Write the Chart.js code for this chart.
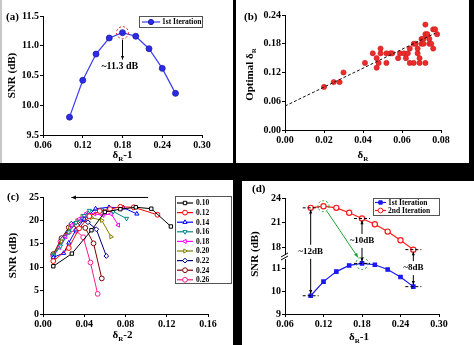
<!DOCTYPE html>
<html>
<head>
<meta charset="utf-8">
<script src="https://cdn.jsdelivr.net/npm/chart.js@4.4.0/dist/chart.umd.min.js"></script>
<style>
html, body { margin: 0; padding: 0; background: #000; }
#fig { position: relative; width: 474px; height: 345px; background: #000; overflow: hidden; }
.panel { position: absolute; background: #fff; }
</style>
</head>
<body>
<div id="fig">
    <div class="panel" style="left:0;top:0;width:233px;height:163px;"><canvas id="chartA"></canvas></div>
    <div class="panel" style="left:236px;top:0;width:233px;height:163px;"><canvas id="chartB"></canvas></div>
    <div class="panel" style="left:0;top:180px;width:233px;height:165px;"><canvas id="chartC"></canvas></div>
    <div class="panel" style="left:242px;top:181px;width:232px;height:164px;"><canvas id="chartD"></canvas></div>
</div>
<script>
// === DATA ===
// (a) / (d): SNR vs deltaR-1
const iterX = [0.10, 0.12, 0.14, 0.16, 0.18, 0.20, 0.22, 0.24, 0.26];
const iter1SNR = [9.8, 10.42, 10.86, 11.13, 11.22, 11.16, 10.95, 10.62, 10.2];
const iter2SNR = [22.8, 23.0, 22.8, 22.2, 21.5, 20.8, 19.9, 18.85, 17.7];

// (b): optimal deltaR vs deltaR
const bX = [0.020, 0.025, 0.028, 0.030, 0.047,
    0.041, 0.048, 0.052, 0.064, 0.066, 0.069, 0.072,
    0.047, 0.058, 0.062, 0.069,
    0.045, 0.049, 0.052, 0.054, 0.055, 0.059, 0.061, 0.063, 0.068,
    0.049, 0.064, 0.068, 0.076,
    0.066, 0.067, 0.070, 0.071, 0.074, 0.075,
    0.070, 0.071, 0.074,
    0.072, 0.073, 0.078,
    0.076, 0.077,
    0.072];
const bY = [0.09, 0.10, 0.10, 0.12, 0.13,
    0.14, 0.14, 0.14, 0.14, 0.14, 0.14, 0.14,
    0.15, 0.15, 0.15, 0.15,
    0.16, 0.16, 0.16, 0.16, 0.16, 0.16, 0.16, 0.16, 0.16,
    0.17, 0.17, 0.17, 0.17,
    0.18, 0.18, 0.18, 0.18, 0.18, 0.18,
    0.19, 0.19, 0.19,
    0.20, 0.20, 0.20,
    0.21, 0.21,
    0.22];
const fitX = [0.0, 0.077];
const fitY = [0.05, 0.202];

// (c): SNR vs deltaR-2 for each deltaR-1
const cLabels = ['0.10', '0.12', '0.14', '0.16', '0.18', '0.20', '0.22', '0.24', '0.26'];
const c010x = [0.010, 0.028, 0.047, 0.060, 0.075, 0.090, 0.105, 0.124];
const c010y = [10.2, 12.9, 17.9, 21.8, 22.4, 22.8, 22.5, 18.7];
const c012x = [0.010, 0.025, 0.035, 0.045, 0.055, 0.065, 0.075, 0.088, 0.111];
const c012y = [11.3, 14.1, 18.3, 20.9, 22.0, 22.4, 22.9, 22.8, 21.2];
const c014x = [0.010, 0.020, 0.025, 0.032, 0.040, 0.051, 0.064, 0.078, 0.091];
const c014y = [12.1, 13.0, 15.2, 18.0, 20.3, 22.5, 22.8, 22.7, 21.4];
const c016x = [0.010, 0.017, 0.025, 0.032, 0.040, 0.045, 0.057, 0.068, 0.081];
const c016y = [12.5, 14.5, 17.5, 19.5, 21.0, 22.1, 22.2, 21.9, 20.4];
const c018x = [0.010, 0.016, 0.022, 0.028, 0.035, 0.042, 0.050, 0.058, 0.066, 0.073];
const c018y = [12.3, 14.2, 16.5, 19.0, 20.3, 21.5, 21.4, 21.1, 21.4, 19.0];
const c020x = [0.010, 0.018, 0.026, 0.033, 0.038, 0.047, 0.057, 0.066];
const c020y = [12.6, 15.5, 18.3, 19.9, 20.9, 20.6, 20.0, 16.5];
const c022x = [0.010, 0.019, 0.0275, 0.0356, 0.0436, 0.0517, 0.0614];
const c022y = [12.6, 16.0, 19.3, 20.0, 19.6, 18.1, 12.4];
const c024x = [0.010, 0.018, 0.025, 0.033, 0.041, 0.049, 0.057];
const c024y = [12.8, 16.2, 18.5, 18.9, 18.4, 15.1, 7.6];
const c026x = [0.010, 0.017, 0.025, 0.032, 0.039, 0.046, 0.053];
const c026y = [12.4, 15.5, 17.5, 17.8, 16.4, 11.0, 4.3];

// tick labels
const snrTicksA = [9.5, 10.0, 10.5, 11.0, 11.5];
const deltaTicks = [0.06, 0.12, 0.18, 0.24, 0.30];
const bXTicks = [0.00, 0.02, 0.04, 0.06, 0.08];
const bYTicks = [0.00, 0.06, 0.12, 0.18, 0.24];
const cXTicks = [0.00, 0.04, 0.08, 0.12, 0.16];
const cYTicks = [0, 5, 10, 15, 20, 25];
const dLowTicks = [9, 10, 11];
const dHighTicks = [18, 21, 24];

// === STYLE ===
const FONT = '"Liberation Serif", "Times New Roman", serif';
const cColors = ['#000000', '#ff0000', '#0000ff', '#008b8b', '#ff00ff', '#808000', '#000080', '#800000', '#ff1a8c'];
const cStyles = ['rect', 'circle', 'triangle', 'triangle', 'triangle', 'triangle', 'rectRot', 'circle', 'circle'];
const cRotations = [0, 0, 0, 180, 270, 90, 0, 0, 0];

const pts = (xs, ys) => xs.map((x, i) => ({ x: x, y: ys[i] }));

function linAxis(min, max, ticks, digits, size, extra) {
    return Object.assign({
        type: 'linear',
        min: min,
        max: max,
        afterBuildTicks: s => { s.ticks = ticks.map(v => ({ value: v })); },
        afterFit: s => { if (s.isHorizontal()) s.height = size; else s.width = size; },
        grid: { drawOnChartArea: false, tickLength: 3, color: '#000' },
        border: { color: '#000', width: 1 },
        ticks: {
            color: '#000', padding: 1, maxRotation: 0, autoSkip: false,
            font: { family: FONT, size: 10, weight: 'bold' },
            callback: v => Number(v).toFixed(digits)
        }
    }, extra || {});
}

function baseOptions(pad, scales) {
    return {
        responsive: true,
        maintainAspectRatio: false,
        animation: false,
        layout: { padding: pad },
        plugins: { legend: { display: false }, tooltip: { enabled: false } },
        scales: scales
    };
}

// === DRAW HELPERS ===
function text(ctx, str, x, y, size, align) {
    ctx.save();
    ctx.font = `bold ${size}px ${FONT}`;
    ctx.fillStyle = '#000';
    ctx.textAlign = align || 'center';
    ctx.textBaseline = 'middle';
    ctx.fillText(str, x, y);
    ctx.restore();
}

// parts: [text, isSubscript]
function subText(ctx, x, y, parts, size, rot) {
    ctx.save();
    ctx.translate(x, y);
    if (rot) ctx.rotate(rot);
    const big = `bold ${size}px ${FONT}`;
    const small = `bold ${Math.round(size * 0.68)}px ${FONT}`;
    let w = 0;
    parts.forEach(p => { ctx.font = p[1] ? small : big; w += ctx.measureText(p[0]).width; });
    let cx = -w / 2;
    ctx.fillStyle = '#000';
    ctx.textAlign = 'left';
    ctx.textBaseline = 'middle';
    parts.forEach(p => {
        ctx.font = p[1] ? small : big;
        ctx.fillText(p[0], cx, p[1] ? size * 0.35 : 0);
        cx += ctx.measureText(p[0]).width;
    });
    ctx.restore();
}

function arrow(ctx, x1, y1, x2, y2, color, head) {
    ctx.save();
    ctx.strokeStyle = color;
    ctx.fillStyle = color;
    ctx.lineWidth = 1;
    ctx.beginPath();
    ctx.moveTo(x1, y1);
    ctx.lineTo(x2, y2);
    ctx.stroke();
    const a = Math.atan2(y2 - y1, x2 - x1);
    ctx.beginPath();
    ctx.moveTo(x2, y2);
    ctx.lineTo(x2 - head * Math.cos(a - 0.4), y2 - head * Math.sin(a - 0.4));
    ctx.lineTo(x2 - head * Math.cos(a + 0.4), y2 - head * Math.sin(a + 0.4));
    ctx.closePath();
    ctx.fill();
    ctx.restore();
}

function dashedCircle(ctx, x, y, r, color) {
    ctx.save();
    ctx.strokeStyle = color;
    ctx.lineWidth = 1;
    ctx.setLineDash([2, 2]);
    ctx.beginPath();
    ctx.arc(x, y, r, 0, Math.PI * 2);
    ctx.stroke();
    ctx.restore();
}

function dashLine(ctx, x1, y1, x2, y2, color) {
    ctx.save();
    ctx.strokeStyle = color;
    ctx.lineWidth = 1;
    ctx.setLineDash([3, 2]);
    ctx.beginPath();
    ctx.moveTo(x1, y1);
    ctx.lineTo(x2, y2);
    ctx.stroke();
    ctx.restore();
}

function marker(ctx, style, rot, x, y, r, stroke, fill) {
    ctx.save();
    ctx.strokeStyle = stroke;
    ctx.fillStyle = fill;
    ctx.lineWidth = 1;
    if (Chart.helpers && Chart.helpers.drawPoint) {
        Chart.helpers.drawPoint(ctx, { pointStyle: style, rotation: rot, radius: r, borderWidth: 1 }, x, y);
    } else {
        ctx.beginPath();
        ctx.arc(x, y, r, 0, Math.PI * 2);
        ctx.fill();
        ctx.stroke();
    }
    ctx.restore();
}

function legendBox(ctx, x, y, w, h) {
    ctx.save();
    ctx.fillStyle = '#fff';
    ctx.fillRect(x, y, w, h);
    ctx.strokeStyle = '#555';
    ctx.lineWidth = 1;
    ctx.strokeRect(x + 0.5, y + 0.5, w, h);
    ctx.restore();
}

function legendLine(ctx, x1, x2, y, color) {
    ctx.save();
    ctx.strokeStyle = color;
    ctx.lineWidth = 1.2;
    ctx.beginPath();
    ctx.moveTo(x1, y);
    ctx.lineTo(x2, y);
    ctx.stroke();
    ctx.restore();
}

// vertical double arrow with a label between two points
function gapArrows(ctx, x, yTop, yBot, label) {
    const mid = (yTop + yBot) / 2;
    dashLine(ctx, x - 8, yTop, x + 8, yTop, '#000');
    dashLine(ctx, x - 8, yBot, x + 8, yBot, '#000');
    text(ctx, label, x, mid, 9);
    if (mid - 7 - (yTop + 2) > 4) arrow(ctx, x, mid - 7, x, yTop + 2, '#000', 4);
    if (yBot - 2 - (mid + 7) > 4) arrow(ctx, x, mid + 7, x, yBot - 2, '#000', 4);
}

// === PANEL PLUGINS ===
const panelA = {
    id: 'panelA',
    beforeDraw(chart) {
        const c = chart.ctx;
        c.save();
        c.fillStyle = '#c8c8c8';
        c.fillRect(0, 0, 2, chart.height);
        c.restore();
    },
    afterDraw(chart) {
        const ctx = chart.ctx, xs = chart.scales.x, ys = chart.scales.y, area = chart.chartArea;
        text(ctx, '(a)', 6, 17, 11, 'left');
        subText(ctx, (area.left + area.right) / 2, 155, [['δ', 0], ['R', 1], ['-1', 0]], 11);
        subText(ctx, 12, (area.top + area.bottom) / 2, [['SNR (dB)', 0]], 11, -Math.PI / 2);

        const peak = iter1SNR.indexOf(Math.max(...iter1SNR));
        const px = xs.getPixelForValue(iterX[peak]);
        const py = ys.getPixelForValue(iter1SNR[peak]);
        dashedCircle(ctx, px, py, 6, '#e02020');
        const ty = ys.getPixelForValue(10.65);
        arrow(ctx, px, py + 7, px, ty - 7, '#000', 4);
        text(ctx, '~11.3 dB', xs.getPixelForValue(0.176), ty, 10);

        const bx = area.right - 63, by = area.top;
        legendBox(ctx, bx, by, 63, 11);
        legendLine(ctx, bx + 3, bx + 21, by + 6, '#3b3bf5');
        marker(ctx, 'circle', 0, bx + 12, by + 6, 2.6, '#1c1caa', '#2b2be8');
        text(ctx, '1st Iteration', bx + 23, by + 6.5, 7.5, 'left');
    }
};

const panelB = {
    id: 'panelB',
    afterDraw(chart) {
        const ctx = chart.ctx, area = chart.chartArea;
        text(ctx, '(b)', 8, 17, 11, 'left');
        subText(ctx, (area.left + area.right) / 2, 155, [['δ', 0], ['R', 1]], 11);
        subText(ctx, 14, (area.top + area.bottom) / 2 + 2, [['Optimal δ', 0], ['R', 1]], 11, -Math.PI / 2);
    }
};

const panelC = {
    id: 'panelC',
    afterDraw(chart) {
        const ctx = chart.ctx, xs = chart.scales.x, ys = chart.scales.y, area = chart.chartArea;
        text(ctx, '(c)', 7, 17, 11, 'left');
        subText(ctx, (area.left + area.right) / 2 - 3, 155, [['δ', 0], ['R', 1], ['-2', 0]], 11);
        subText(ctx, 13, (area.top + area.bottom) / 2, [['SNR (dB)', 0]], 11, -Math.PI / 2);

        const ay = ys.getPixelForValue(24.9);
        arrow(ctx, xs.getPixelForValue(0.102), ay, xs.getPixelForValue(0.0275), ay, '#000', 5);

        const bx = 175, by = 16;
        legendBox(ctx, bx, by, 56, 87);
        cLabels.forEach((lab, i) => {
            const y = by + 7 + i * 9.6;
            legendLine(ctx, bx + 2, bx + 18, y, cColors[i]);
            marker(ctx, cStyles[i], cRotations[i], bx + 10, y, 2.4, cColors[i], '#fff');
            text(ctx, lab, bx + 21, y + 0.5, 7.5, 'left');
        });
    }
};

const panelD = {
    id: 'panelD',
    afterDraw(chart) {
        const ctx = chart.ctx, xs = chart.scales.x, hi = chart.scales.yHigh, lo = chart.scales.yLow;
        const area = chart.chartArea;
        text(ctx, '(d)', 10, 8, 11, 'left');
        subText(ctx, (area.left + area.right) / 2 - 3, 156, [['δ', 0], ['R', 1], ['-1', 0]], 11);
        subText(ctx, 13, (area.top + area.bottom) / 2 - 2, [['SNR (dB)', 0]], 11, -Math.PI / 2);

        // axis break
        const bxl = area.left, byl = hi.bottom;
        ctx.save();
        ctx.fillStyle = '#fff';
        ctx.fillRect(bxl - 4, byl - 2, 8, 4);
        ctx.strokeStyle = '#000';
        ctx.lineWidth = 1;
        ctx.beginPath();
        ctx.moveTo(bxl - 4, byl); ctx.lineTo(bxl + 3, byl - 4);
        ctx.moveTo(bxl - 4, byl + 3); ctx.lineTo(bxl + 3, byl - 1);
        ctx.stroke();
        ctx.restore();

        // peak shift
        const i2 = iter2SNR.indexOf(Math.max(...iter2SNR));
        const i1 = iter1SNR.indexOf(Math.max(...iter1SNR));
        const c2x = xs.getPixelForValue(iterX[i2]), c2y = hi.getPixelForValue(iter2SNR[i2]);
        const c1x = xs.getPixelForValue(iterX[i1]), c1y = lo.getPixelForValue(iter1SNR[i1]);
        dashedCircle(ctx, c2x, c2y, 5.5, '#22a33a');
        dashedCircle(ctx, c1x, c1y, 6, '#22a33a');
        const len = Math.hypot(c1x - c2x, c1y - c2y);
        const ux = (c1x - c2x) / len, uy = (c1y - c2y) / len;
        arrow(ctx, c2x + ux * 6, c2y + uy * 6, c1x - ux * 7, c1y - uy * 7, '#22a33a', 5);

        // SNR gains
        [[0, '~12dB'], [4, '~10dB'], [8, '~8dB']].forEach(g => {
            const k = g[0];
            gapArrows(ctx, xs.getPixelForValue(iterX[k]), hi.getPixelForValue(iter2SNR[k]), lo.getPixelForValue(iter1SNR[k]), g[1]);
        });

        // legend
        const bx = area.right - 66, by = area.top;
        legendBox(ctx, bx, by, 66, 17);
        legendLine(ctx, bx + 2, bx + 13, by + 4.5, '#1a1af0');
        marker(ctx, 'rect', 0, bx + 7.5, by + 4.5, 2.4, '#1a1af0', '#1a1af0');
        text(ctx, '1st Iteration', bx + 15, by + 5, 7.5, 'left');
        legendLine(ctx, bx + 2, bx + 13, by + 12.5, '#ff1a1a');
        marker(ctx, 'circle', 0, bx + 7.5, by + 12.5, 2.4, '#ff1a1a', '#fff');
        text(ctx, '2nd Iteration', bx + 15, by + 13, 7.5, 'left');
    }
};

// === CHARTS ===
function createChartA() {
    new Chart(document.getElementById('chartA'), {
        type: 'line',
        data: {
            datasets: [{
                data: pts(iterX, iter1SNR),
                borderColor: '#3b3bf5',
                borderWidth: 1.2,
                pointRadius: 3,
                pointBackgroundColor: '#2b2be8',
                pointBorderColor: '#1c1caa',
                pointBorderWidth: 0.8,
                tension: 0
            }]
        },
        options: baseOptions({ top: 16, right: 31, left: 0, bottom: 0 }, {
            x: linAxis(0.06, 0.30, deltaTicks, 2, 28),
            y: linAxis(9.5, 11.5, snrTicksA, 1, 43)
        }),
        plugins: [panelA]
    });
}

function createChartB() {
    new Chart(document.getElementById('chartB'), {
        type: 'scatter',
        data: {
            datasets: [
                {
                    data: pts(fitX, fitY),
                    showLine: true,
                    borderColor: '#111',
                    borderWidth: 1,
                    borderDash: [3, 2],
                    pointRadius: 0
                },
                {
                    data: pts(bX, bY),
                    pointRadius: 2.6,
                    pointBackgroundColor: '#ec2b2b',
                    pointBorderColor: '#c81e1e',
                    pointBorderWidth: 0.6
                }
            ]
        },
        options: baseOptions({ top: 15, right: 28, left: 0, bottom: 0 }, {
            x: linAxis(0, 0.08, bXTicks, 2, 33),
            y: linAxis(0, 0.24, bYTicks, 2, 49)
        }),
        plugins: [panelB]
    });
}

function createChartC() {
    const xs = [c010x, c012x, c014x, c016x, c018x, c020x, c022x, c024x, c026x];
    const ys = [c010y, c012y, c014y, c016y, c018y, c020y, c022y, c024y, c026y];
    new Chart(document.getElementById('chartC'), {
        type: 'line',
        data: {
            datasets: cLabels.map((lab, i) => ({
                label: lab,
                data: pts(xs[i], ys[i]),
                borderColor: cColors[i],
                borderWidth: 1,
                pointStyle: cStyles[i],
                rotation: cRotations[i],
                pointRadius: 2.4,
                pointBackgroundColor: '#fff',
                pointBorderColor: cColors[i],
                pointBorderWidth: 1,
                tension: 0
            }))
        },
        options: baseOptions({ top: 17, right: 25, left: 0, bottom: 0 }, {
            x: linAxis(0, 0.16, cXTicks, 2, 31),
            y: linAxis(0, 25, cYTicks, 0, 43)
        }),
        plugins: [panelC]
    });
}

function createChartD() {
    new Chart(document.getElementById('chartD'), {
        type: 'line',
        data: {
            datasets: [
                {
                    label: '1st Iteration',
                    data: pts(iterX, iter1SNR),
                    yAxisID: 'yLow',
                    borderColor: '#1a1af0',
                    borderWidth: 1.2,
                    pointStyle: 'rect',
                    pointRadius: 2.4,
                    pointBackgroundColor: '#1a1af0',
                    pointBorderColor: '#1a1af0',
                    tension: 0
                },
                {
                    label: '2nd Iteration',
                    data: pts(iterX, iter2SNR),
                    yAxisID: 'yHigh',
                    borderColor: '#ff1a1a',
                    borderWidth: 1.2,
                    pointStyle: 'circle',
                    pointRadius: 2.6,
                    pointBackgroundColor: '#fff',
                    pointBorderColor: '#ff1a1a',
                    pointBorderWidth: 1.2,
                    tension: 0
                }
            ]
        },
        options: baseOptions({ top: 17, right: 35, left: 0, bottom: 0 }, {
            x: linAxis(0.06, 0.30, deltaTicks, 2, 31),
            yLow: linAxis(9, 11.5, dLowTicks, 0, 43, { position: 'left', stack: 'snr', stackWeight: 57 }),
            yHigh: linAxis(16.8, 24, dHighTicks, 0, 43, { position: 'left', stack: 'snr', stackWeight: 59 })
        }),
        plugins: [panelD]
    });
}

document.addEventListener('DOMContentLoaded', () => {
    createChartA();
    createChartB();
    createChartC();
    createChartD();
});
</script>
</body>
</html>
